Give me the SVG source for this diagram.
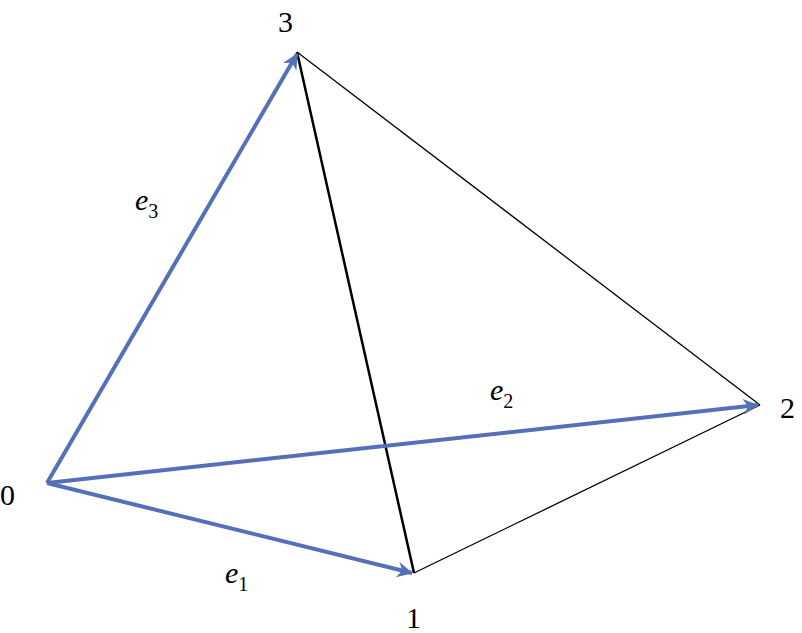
<svg xmlns="http://www.w3.org/2000/svg" width="802" height="633" viewBox="0 0 802 633">
<style>
.b{stroke:#5470b8;stroke-width:4;fill:none;marker-end:url(#ah)}
.k{stroke:#000;fill:none}
.t{font-family:"Liberation Serif",serif;font-size:30px;fill:#000}
.e{font-family:"Liberation Serif",serif;font-size:30px;font-style:italic;fill:#000}
.s{font-size:20px;font-style:normal}
</style>
<defs>
<marker id="ah" viewBox="0 0 10 10" refX="9" refY="5" markerWidth="6" markerHeight="6" markerUnits="userSpaceOnUse" orient="auto" style="overflow:visible">
<path d="M0,0 L10,5 L0,10 L3,5 Z" fill="#5470b8" transform="scale(2.6) translate(-6,-3)"/>
</marker>
</defs>
<rect width="802" height="633" fill="#fff"/>
<g id="connectors">
<line class="k" x1="297" y1="52" x2="414" y2="573" stroke-width="2.5"/>
<line class="k" x1="297" y1="52" x2="760" y2="405" stroke-width="1.3"/>
<line class="k" x1="414" y1="573" x2="760" y2="405" stroke-width="1.3"/>
<line class="b" x1="47" y1="483" x2="297" y2="54"/>
<line class="b" x1="47" y1="483" x2="758" y2="405"/>
<line class="b" x1="47" y1="483" x2="412" y2="573"/>
</g>
<g id="n0"><text class="t" x="0" y="505">0</text></g>
<g id="n1"><text class="t" x="406" y="628">1</text></g>
<g id="n2"><text class="t" x="780" y="418">2</text></g>
<g id="n3"><text class="t" x="278" y="32">3</text></g>
<g id="e3"><text class="e" x="135" y="210">e<tspan class="s" dy="8">3</tspan></text></g>
<g id="e2"><text class="e" x="490" y="400">e<tspan class="s" dy="8">2</tspan></text></g>
<g id="e1"><text class="e" x="225" y="583">e<tspan class="s" dy="8">1</tspan></text></g>
</svg>
